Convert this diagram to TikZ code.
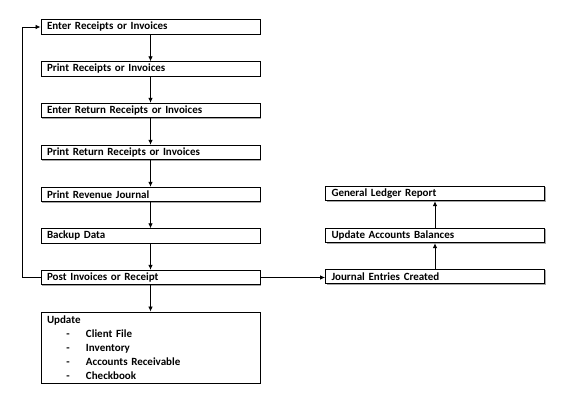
\documentclass[tikz,border=0pt]{standalone}
\usepackage{fontspec}
\setmainfont{Carlito}
\usetikzlibrary{arrows.meta,shadows}
\begin{document}
\begin{tikzpicture}[x=1pt,y=-1pt,
  box/.style={draw=black,line width=0.9pt,fill=white,rectangle,minimum width=219pt,minimum height=14.5pt,
    text width=207pt,align=left,inner xsep=6pt,inner ysep=0pt,
    font=\fontsize{11}{14}\selectfont\bfseries,
    drop shadow={shadow xshift=1.2pt,shadow yshift=-1.2pt,fill=black!35,opacity=1}},
  link/.style={draw=black,line width=0.8pt,-{Latex[length=5pt,width=4.5pt]}}]
\useasboundingbox (0,0) rectangle (574,404);
\node[box] (a) at (150.5,27) {Enter Receipts or Invoices};
\node[box] (b) at (150.5,69) {Print Receipts or Invoices};
\node[box] (c) at (150.5,110.5) {Enter Return Receipts or Invoices};
\node[box] (d) at (150.5,152.5) {Print Return Receipts or Invoices};
\node[box] (e) at (150.5,194.5) {Print Revenue Journal};
\node[box] (f) at (150.5,236) {Backup Data};
\node[box] (g) at (150.5,277.5) {Post Invoices or Receipt};
\node[box,minimum height=71pt] (h) at (150.5,347.5) {Update\\
\makebox[39pt][l]{\hspace{19.5pt}-}Client File\\
\makebox[39pt][l]{\hspace{19.5pt}-}Inventory\\
\makebox[39pt][l]{\hspace{19.5pt}-}Accounts Receivable\\
\makebox[39pt][l]{\hspace{19.5pt}-}Checkbook};
\node[box] (j) at (435,276.5) {Journal Entries Created};
\node[box] (u) at (435,235.5) {Update Accounts Balances};
\node[box] (r) at (435,193.5) {General Ledger Report};
\coordinate (lt) at (22.7,27);
\coordinate (lb) at (22.7,277.5);
\draw[link] (a) -- (b);
\draw[link] (b) -- (c);
\draw[link] (c) -- (d);
\draw[link] (d) -- (e);
\draw[link] (e) -- (f);
\draw[link] (f) -- (g);
\draw[link] (g) -- (h);
\draw[link] (g.west) -- (lb) -- (lt) -- (a.west);
\draw[link] (g.east) -- (g.east -| j.west);
\draw[link] (j) -- (u);
\draw[link] (u) -- (r);
\end{tikzpicture}
\end{document}
